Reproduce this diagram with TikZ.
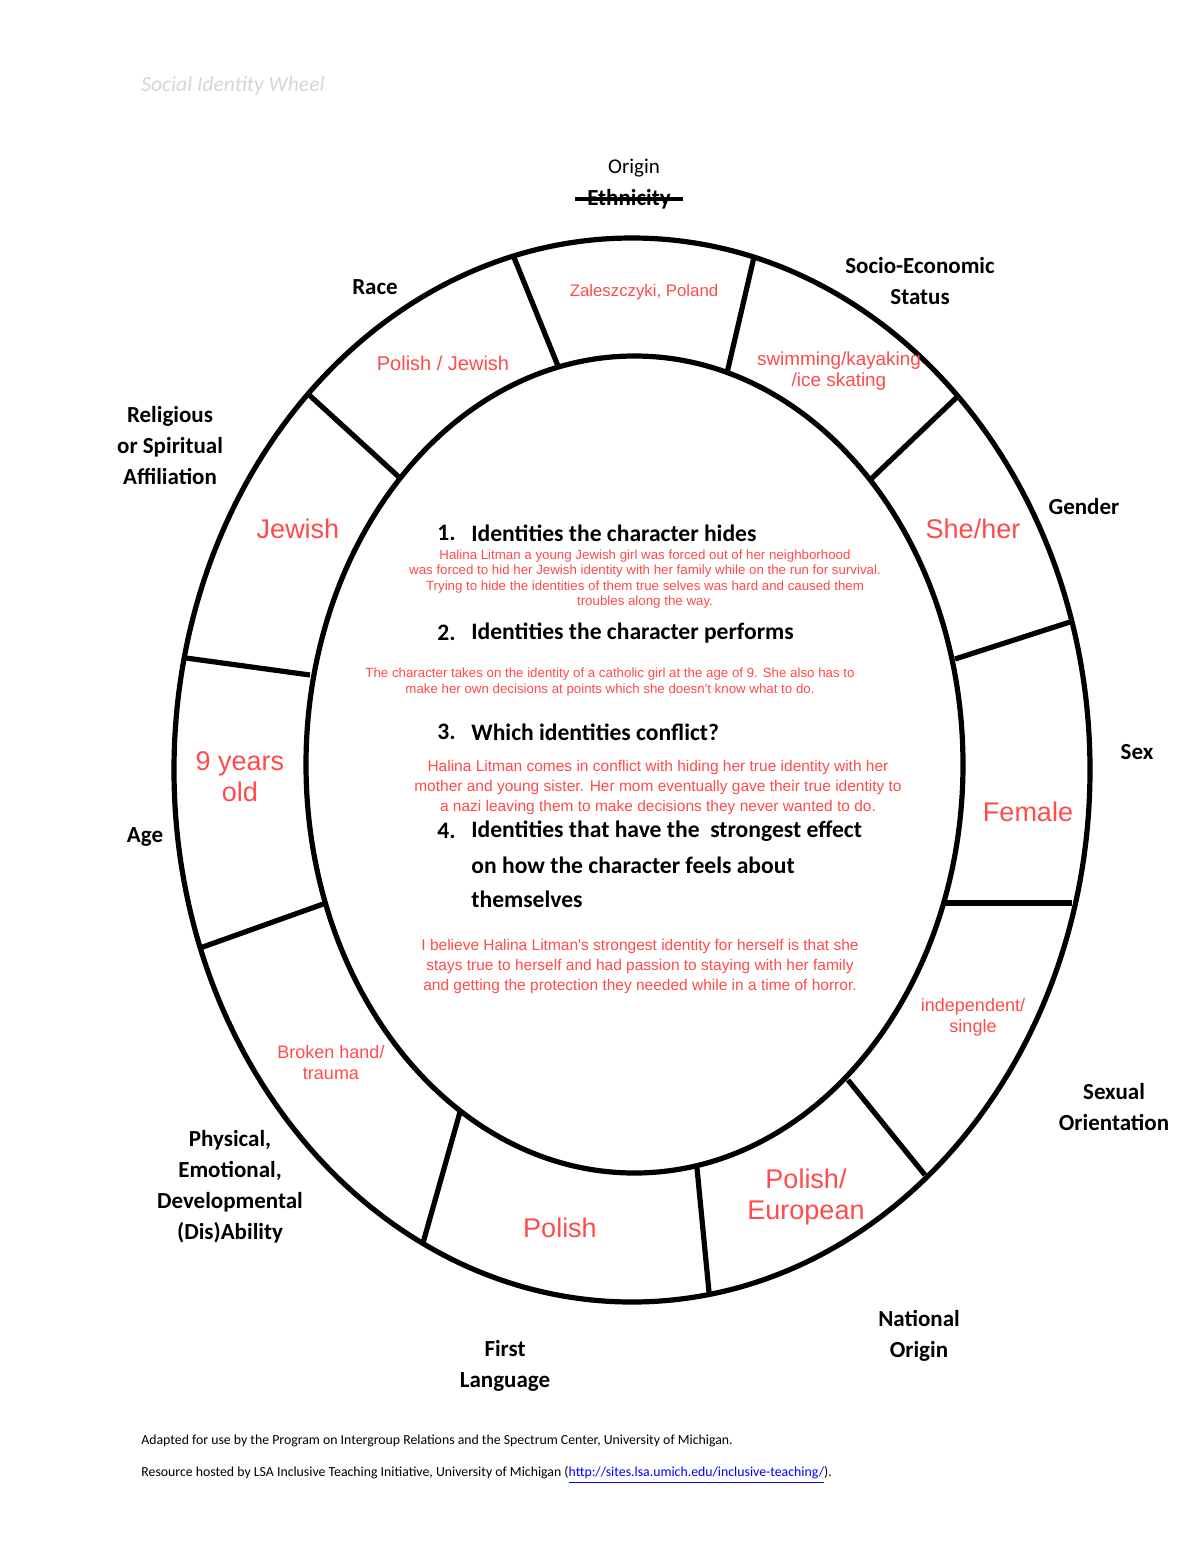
\documentclass[tikz,border=0pt]{standalone}
\usepackage{fontspec}
\newfontfamily\calfont{Carlito}
\newfontfamily\arfont{Liberation Sans}
\definecolor{redtxt}{HTML}{FF4B4B}
\definecolor{hdrgray}{HTML}{D6D6D6}
\definecolor{linkblue}{HTML}{0000FF}
\begin{document}
\begin{tikzpicture}[x=0.5pt,y=-0.5pt,
  wheel/.style={line width=2.6pt,black},
  lbl/.style={font=\calfont\bfseries\fontsize{11.5}{15.5}\selectfont,align=center,inner sep=0pt},
  seg/.style={text=redtxt,align=center,inner sep=0pt},
  segbig/.style={seg,font=\arfont\fontsize{13.5}{15.5}\selectfont},
  segmid/.style={seg,font=\arfont\fontsize{10}{11}\selectfont},
  segsm/.style={seg,font=\arfont\fontsize{9}{10.5}\selectfont},
  qhead/.style={font=\calfont\bfseries\fontsize{11.8}{17}\selectfont,anchor=west,inner sep=0pt},
  qnum/.style={font=\calfont\bfseries\fontsize{11.8}{17}\selectfont,anchor=west,inner sep=0pt},
  ans/.style={text=redtxt,align=center,inner sep=0pt,font=\arfont\fontsize{6.65}{7.8}\selectfont},
  ansb/.style={text=redtxt,align=center,inner sep=0pt,font=\arfont\fontsize{7.75}{10}\selectfont},
  foot/.style={font=\calfont\fontsize{6.9}{8}\selectfont,anchor=west,inner sep=0pt}
]
\useasboundingbox[fill=white] (0,0) rectangle (1200,1553);

% header
\node[font=\calfont\itshape\fontsize{10.8}{12}\selectfont,text=hdrgray,anchor=west,inner sep=0pt] (hdr) at (141,86) {Social Identity Wheel};

% wheel
\draw[wheel] (632,770) ellipse [x radius=458, y radius=532];
\draw[wheel] (634.5,764.5) ellipse [x radius=328.5, y radius=408.5];

% spoke endpoints
\coordinate (o1) at (513,255);  \coordinate (i1) at (558,366);
\coordinate (o2) at (754,257);  \coordinate (i2) at (727,373);
\coordinate (o3) at (957,397);  \coordinate (i3) at (870,480);
\coordinate (o4) at (1070,622); \coordinate (i4) at (955,659);
\coordinate (o5) at (1072,903); \coordinate (i5) at (945,903);
\coordinate (o6) at (925,1175); \coordinate (i6) at (848,1080);
\coordinate (o7) at (709,1292); \coordinate (i7) at (697,1168);
\coordinate (o8) at (423,1243); \coordinate (i8) at (460,1112);
\coordinate (o9) at (200,948);  \coordinate (i9) at (326,903);
\coordinate (o10) at (186,658); \coordinate (i10) at (310,675);
\coordinate (o11) at (307,393); \coordinate (i11) at (400,478);
\foreach \k in {1,...,11}{\draw[wheel] (o\k) -- (i\k);}

% outer labels
\node[font=\calfont\fontsize{10.5}{15.5}\selectfont,inner sep=0pt] (origin) at (634,168) {Origin};
\node[lbl] (ethn) at (629,199) {Ethnicity};
\draw[line width=2pt] ([xshift=-6]ethn.west) -- ([xshift=6]ethn.east);
\node[lbl] (race) at (375,287) {Race};
\node[lbl] (ses) at (920,281) {Socio-Economic\\Status};
\node[lbl] (rel) at (170,446) {Religious\\or Spiritual\\Affiliation};
\node[lbl] (gender) at (1084,507) {Gender};
\node[lbl] (sex) at (1137,752) {Sex};
\node[lbl] (age) at (145,837) {Age};
\node[lbl] (sexor) at (1114,1107) {Sexual\\Orientation};
\node[lbl] (phys) at (230,1187) {Physical,\\Emotional,\\Developmental\\(Dis)Ability};
\node[lbl] (natorig) at (919,1336) {National\\Origin};
\node[lbl] (lang) at (505,1366) {First\\Language};

% segment answers
\node[seg,font=\arfont\fontsize{8.4}{10}\selectfont] (a1) at (644,292) {Zaleszczyki, Poland};
\node[segmid] (a2) at (443,363) {Polish / Jewish};
\node[seg,font=\arfont\fontsize{9.45}{10.5}\selectfont] (a3) at (839,371) {swimming/kayaking\\/ice skating};
\node[segbig] (a4) at (298,529) {Jewish};
\node[segbig] (a5) at (973,529) {She/her};
\node[segbig] (a6) at (240,777) {9 years\\old};
\node[segbig] (a7) at (1028,812) {Female};
\node[segsm] (a8) at (973,1017) {independent/\\single};
\node[segsm] (a9) at (331,1063) {Broken hand/\\trauma};
\node[segbig] (a10) at (806,1197) {Polish/\\European};
\node[segbig] (a11) at (560,1228) {Polish};

% center questions
\node[qnum] (n1) at (437,533) {1.};
\node[qhead] (q1) at (471,533) {Identities the character hides};
\node[ans] (t1) at (645,579) {Halina Litman a young Jewish girl was forced out of her neighborhood\\was forced to hid her Jewish identity with her family while on the run for survival.\\Trying to hide the identities of them true selves was hard and caused them\\troubles along the way.};
\node[qnum] (n2) at (437,633) {2.};
\node[qhead] (q2) at (471,633) {Identities the character performs};
\node[ans] (t2) at (610,682) {The character takes on the identity of a catholic girl at the age of 9. She also has to\\make her own decisions at points which she doesn't know what to do.};
\node[qnum] (n3) at (437,732) {3.};
\node[qhead] (q3) at (471,732) {Which identities conflict?};
\node[ansb] (t3) at (658,787) {Halina Litman comes in conflict with hiding her true identity with her\\mother and young sister. Her mom eventually gave their true identity to\\a nazi leaving them to make decisions they never wanted to do.};
\node[qnum] (n4) at (437,831) {4.};
\node[qhead] (q4) at (471,831) {Identities that have the \ strongest effect};
\node[qhead] (q4b) at (471,865) {on how the character feels about};
\node[qhead] (q4c) at (471,899) {themselves};
\node[ansb] (t4) at (640,966) {I believe Halina Litman's strongest identity for herself is that she\\stays true to herself and had passion to staying with her family\\and getting the protection they needed while in a time of horror.};

% footer
\node[foot] (f1) at (141,1441) {Adapted for use by the Program on Intergroup Relations and the Spectrum Center, University of Michigan.};
\node[foot] (f2) at (141,1475) {Resource hosted by LSA Inclusive Teaching Initiative, University of Michigan (\textcolor{linkblue}{\underline{http://sites.lsa.umich.edu/inclusive-teaching/}}).};
\end{tikzpicture}
\end{document}
